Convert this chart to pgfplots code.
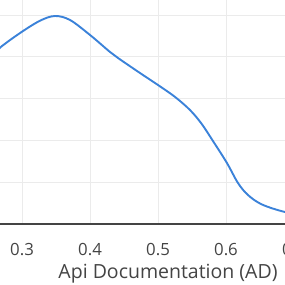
\documentclass[border=0pt]{standalone}
\usepackage{pgfplots}
\pgfplotsset{compat=1.18}
\usepackage{fontspec}
\setmainfont{Open Sans}
\definecolor{curve}{RGB}{59,130,217}
\definecolor{gridc}{RGB}{235,235,235}
\definecolor{axc}{RGB}{68,68,68}
\begin{document}
\begin{tikzpicture}[x=1bp,y=1bp]
\useasboundingbox (0,-61) rectangle (285,224);
\clip (0,-61) rectangle (285,224);
\begin{axis}[
  at={(0,0)}, anchor=south west,
  scale only axis,
  width=307.6bp, height=224bp,
  xmin=0.2676, xmax=0.72,
  ymin=0, ymax=5.359,
  xtick={0.3,0.4,0.5,0.6,0.7},
  ytick={1,2,3,4,5},
  yticklabels={},
  xticklabels={0.3,0.4,0.5,0.6,0.7},
  /pgf/number format/assume math mode=true,
  xticklabel style={anchor=base, yshift=-31bp, font=\fontsize{16.8bp}{18bp}\selectfont, text=axc},
  axis line style={draw=none},
  tick style={draw=none},
  grid=major,
  major grid style={color=gridc, line width=0.9bp},
  xlabel={Api Documentation (AD)},
  xlabel style={at={(axis description cs:0.5462,0)}, anchor=base, yshift=-54bp, font=\fontsize{19.5bp}{21bp}\selectfont, text=axc},
  clip=false,
]
\addplot[color=curve, line width=1.9bp, smooth, tension=0.55] coordinates {
(0.2600,4.05) (0.2676,4.218) (0.2971,4.569) (0.3265,4.864) (0.3485,4.976) (0.3706,4.880)
(0.4000,4.522) (0.4294,4.115) (0.4412,3.971) (0.4735,3.612) (0.5000,3.325)
(0.5250,3.040) (0.5470,2.727) (0.5640,2.400)
(0.5808,1.986) (0.6014,1.459) (0.6176,0.981)
(0.6323,0.694) (0.6529,0.467)
(0.6868,0.287) (0.7200,0.21)
};
\draw[color=axc, line width=1.2bp] (axis cs:0.2676,0) -- (axis cs:0.72,0);
\end{axis}
\end{tikzpicture}
\end{document}
